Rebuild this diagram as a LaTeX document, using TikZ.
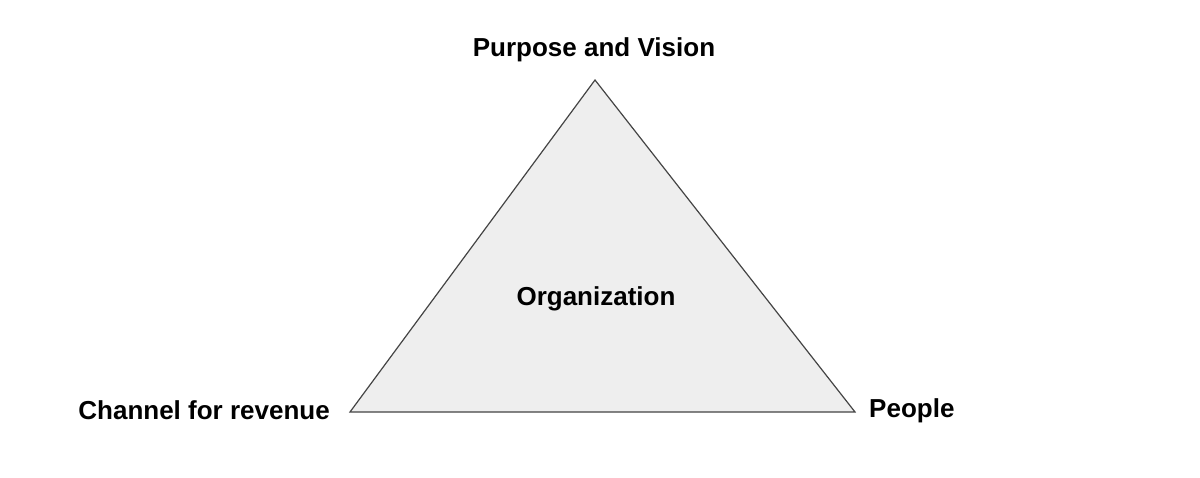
\documentclass[tikz,border=0pt]{standalone}
\usepackage{fontspec}
\setmainfont{Liberation Sans}
\definecolor{tri}{HTML}{EEEEEE}
\definecolor{edge}{HTML}{444444}
\begin{document}
\begin{tikzpicture}[x=1pt,y=-1pt,
  lbl/.style={font=\fontsize{26}{30}\selectfont\bfseries,text=black,inner sep=0pt}]
\useasboundingbox (0,0) rectangle (1200,478);
\coordinate (top) at (595,80);
\coordinate (bl) at (350,412);
\coordinate (br) at (855,412);
\filldraw[fill=tri,draw=edge,line width=1.2pt,line join=miter] (top) -- (bl) -- (br) -- cycle;
\node[lbl] (pv) at (594,50) {Purpose and Vision};
\node[lbl] (org) at (596,299) {Organization};
\node[lbl,anchor=east] (ch) at (330,410) {Channel for revenue};
\node[lbl,anchor=west] (pp) at (869,411) {People};
\end{tikzpicture}
\end{document}
